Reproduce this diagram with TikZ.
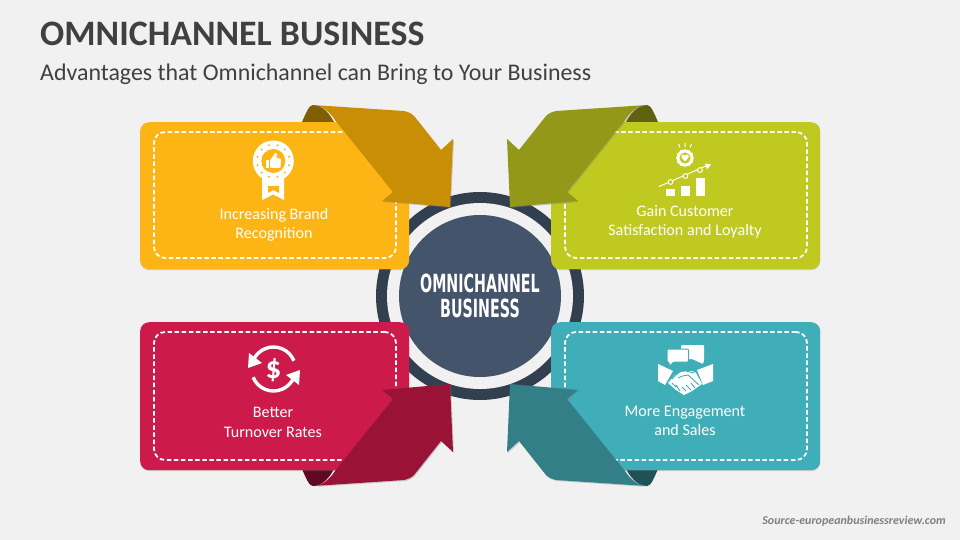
\documentclass[tikz,border=0pt]{standalone}
\usepackage{fontspec}
\setmainfont{Carlito}
\newfontfamily\narrowfont[FakeStretch=0.57]{DejaVu Sans}
\usetikzlibrary{shadows, backgrounds}
\definecolor{PAGE}{HTML}{F1F1F1}
\definecolor{INK}{HTML}{404040}
\definecolor{RING}{HTML}{323F4F}
\definecolor{HUB}{HTML}{44546A}
\definecolor{YEL}{HTML}{FDB515}
\definecolor{YELA}{HTML}{C88E05}
\definecolor{YELF}{HTML}{7F5F00}
\definecolor{OLI}{HTML}{C0C920}
\definecolor{OLIA}{HTML}{939818}
\definecolor{OLIF}{HTML}{5F610F}
\definecolor{RED}{HTML}{CC1A4A}
\definecolor{REDA}{HTML}{9A1236}
\definecolor{REDF}{HTML}{5F0A22}
\definecolor{TEA}{HTML}{3FAEB8}
\definecolor{TEAA}{HTML}{327F87}
\definecolor{TEAF}{HTML}{1E5257}
\tikzset{
  CARD/.style={% Style for the coloured boxes
      rectangle, rounded corners=9pt,
      anchor=north west,
      inner sep=0pt,
      drop shadow={shadow xshift=0pt, shadow yshift=-1pt, opacity=.3},
  },
  DASH/.style={% Style for the dashed frames
      rectangle, rounded corners=11pt,
      anchor=north west,
      inner sep=0pt, outer sep=0pt,
      draw=white, line width=1.8pt,
      dash pattern=on 4.5pt off 2.6pt,
      minimum width=242pt,
      minimum height=126pt,
  },
  LABEL/.style={
      align=center,
      text=white,
      font=\fontsize{16.1}{19.3}\selectfont,
  },
  ICON/.style={fill=white, draw=none},
}
\def\ribbonfold#1#2#3{%
  \begin{scope}[shift={(480,295.5)}, xscale=#1, yscale=#2, shift={(-480,-295.5)}]
    \fill[#3] (300,130) -- (302,122) .. controls (306,113) and (309,105) .. (313,105)
      .. controls (322,105) and (330,112) .. (338,130) -- cycle;
  \end{scope}
}
\def\ribbon#1#2#3{%
  \begin{scope}[shift={(480,295.5)}, xscale=#1, yscale=#2, shift={(-480,-295.5)}]
    \fill[#3, drop shadow={shadow xshift=1pt, shadow yshift=-1pt, opacity=.35}]
      (313,105) -- (404,111) .. controls (408,112) and (411,113) .. (414,116)
      -- (441,150) -- (453,139) -- (450,207) -- (382,201) -- (393,192)
      -- (335,120) .. controls (330,112) and (322,105) .. (313,105) -- cycle;
  \end{scope}
}
\begin{document}
\begin{tikzpicture}[x=1pt, y=-1pt]
  \useasboundingbox (0,0) rectangle (960,540);
  \fill[PAGE] (0,0) rectangle (960,540);
  \node[anchor=base west, text=INK, inner sep=0pt, font=\fontsize{35.8}{40}\selectfont\bfseries] (title) at (40,46) {OMNICHANNEL BUSINESS};
  \node[anchor=base west, text=INK, inner sep=0pt, font=\fontsize{23.9}{28}\selectfont] (subtitle) at (40,81) {Advantages that Omnichannel can Bring to Your Business};
  \node[anchor=base east, text=black!50, inner sep=0pt, font=\fontsize{12}{14}\selectfont\bfseries\itshape] (source) at (946,524) {Source-europeanbusinessreview.com};

  % hub
  \node[circle, fill=RING, minimum size=208pt, inner sep=0pt] (outer) at (480,296) {};
  \node[circle, fill=PAGE, minimum size=186pt, inner sep=0pt] (gap) at (480,296) {};
  \node[circle, fill=HUB, minimum size=162pt, inner sep=0pt] (hub) at (480,296) {};

  \foreach \sx/\sy/\fold in {1/1/YELF, -1/1/OLIF, 1/-1/REDF, -1/-1/TEAF} {
    \ribbonfold{\sx}{\sy}{\fold}
  }

  % cards
  \node[CARD, fill=YEL, minimum width=269pt, minimum height=147pt] (yelcard) at (140,122) {};
  \node[CARD, fill=OLI, minimum width=269pt, minimum height=147pt] (olicard) at (551,122) {};
  \node[CARD, fill=RED, minimum width=269pt, minimum height=148pt] (redcard) at (140,322) {};
  \node[CARD, fill=TEA, minimum width=269pt, minimum height=148pt] (teacard) at (551,322) {};
  \node[DASH] (yeldash) at (154,132) {};
  \node[DASH] (olidash) at (565,132) {};
  \node[DASH, minimum height=128pt] (reddash) at (154,332) {};
  \node[DASH, minimum height=128pt] (teadash) at (565,332) {};

  \foreach \sx/\sy/\main in {1/1/YELA, -1/1/OLIA, 1/-1/REDA, -1/-1/TEAA} {
    \ribbon{\sx}{\sy}{\main}
  }

  \node[text=white, align=center, font=\fontsize{25}{25.7}\selectfont\narrowfont\bfseries] (hubtext) at (480,296) {OMNICHANNEL\\BUSINESS};

  \node[LABEL] (yeltext) at (274,224.5) {Increasing Brand\\Recognition};
  \node[LABEL] (olitext) at (685,221.5) {Gain Customer\\Satisfaction and Loyalty};
  \node[LABEL] (redtext) at (273,422.5) {Better\\Turnover Rates};
  \node[LABEL] (teatext) at (685,421) {More Engagement\\and Sales};

  % medal icon
  \fill[ICON] (262,176) -- (284,176) -- (284,200) -- (273,194.5) -- (262,200) -- cycle;
  \fill[YEL] (268,186) -- (279,186) -- (279,193) -- (273,190) -- (268,193) -- cycle;
  \fill[ICON] (273.3,161) circle (20.5);
  \fill[YEL] (273.3,161) circle (12);
  \foreach \a in {0,30,...,330} {
    \fill[YEL] (273.3,161) ++(\a+15:16.3) circle (1.1);
  }
  \fill[ICON] (266,160) rectangle (269,168);
  \fill[ICON, rounded corners=1pt] (270,160) -- (274,155) -- (275,152.5) -- (277,153) -- (276.5,158.5) -- (281,158.5) -- (280.5,168) -- (270,168) -- cycle;

  % chart icon
  \fill[ICON] (685,158) circle (8.5);
  \foreach \a in {0,30,...,330} {
    \fill[ICON] (685,158) ++(\a:8) circle (1.2);
  }
  \fill[OLI] (685,158) circle (5.6);
  \fill[ICON] (685,161.5) -- (681.5,157.5) .. controls (680.5,154.5) and (684,153.5) .. (685,156) .. controls (686,153.5) and (689.5,154.5) .. (688.5,157.5) -- cycle;
  \draw[white, line width=1pt] (678.5,144) -- (680,147.5) (685,143) -- (685,147) (691.5,144) -- (690,147.5);
  \draw[white, line width=1pt] (659,186.5) -- (706,166);
  \fill[ICON] (711,164.5) -- (705,163.5) -- (707,169.5) -- cycle;
  \foreach \px/\py in {670.5/182, 685.5/176, 700/170} {
    \filldraw[fill=OLI, draw=white, line width=1pt] (\px,\py) circle (2.4);
  }
  \fill[ICON] (666,189) rectangle (675,196);
  \fill[ICON] (681,186) rectangle (690,196);
  \fill[ICON] (696,178) rectangle (705,196);

  % money icon
  \draw[white, line width=3.4pt] (273.5,369) ++(-22:22) arc (-22:-150:22);
  \draw[white, line width=3.4pt] (273.5,369) ++(158:22) arc (158:30:22);
  \fill[ICON] (248,368) -- (249,353) -- (262,363) -- cycle;
  \fill[ICON] (300,370) -- (299,385) -- (286,375) -- cycle;
  \node[text=white, inner sep=0pt, font=\fontsize{31}{31}\selectfont\bfseries] (dollar) at (273.5,370) {\$};

  % handshake icon
  \fill[ICON, rounded corners=1pt] (681,345) -- (704,345) -- (704,360) -- (703,364) -- (692,359) -- (681,359) -- cycle;
  \filldraw[fill=white, draw=TEA, line width=1pt, rounded corners=1pt] (667,349) -- (688.5,349) -- (688.5,362) -- (674,362) -- (669,366.5) -- (669,362) -- (667,362) -- cycle;
  \fill[ICON] (658,364) -- (673,371) -- (665,385) -- (658,381) -- cycle;
  \fill[ICON] (713,364) -- (697,370) -- (703,385) -- (713,381) -- cycle;
  \fill[ICON] (675,375) -- (682,371) -- (692,371) -- (696,373) -- (702,384) -- (692,391) -- (684,395) -- (676,390) -- (668,383) -- cycle;
  \draw[TEA, line width=.9pt] (672,379) .. controls (677,374) and (680,370) .. (686,371) -- (694,373)
    (678,378) .. controls (683,375) and (685,376) .. (688,375) -- (699,385)
    (682,387) -- (686,391) (686,385) -- (691,390) (691,383) -- (695,388)
    (672,383) -- (676,387) (676,385) -- (680,391);
\end{tikzpicture}
\end{document}
